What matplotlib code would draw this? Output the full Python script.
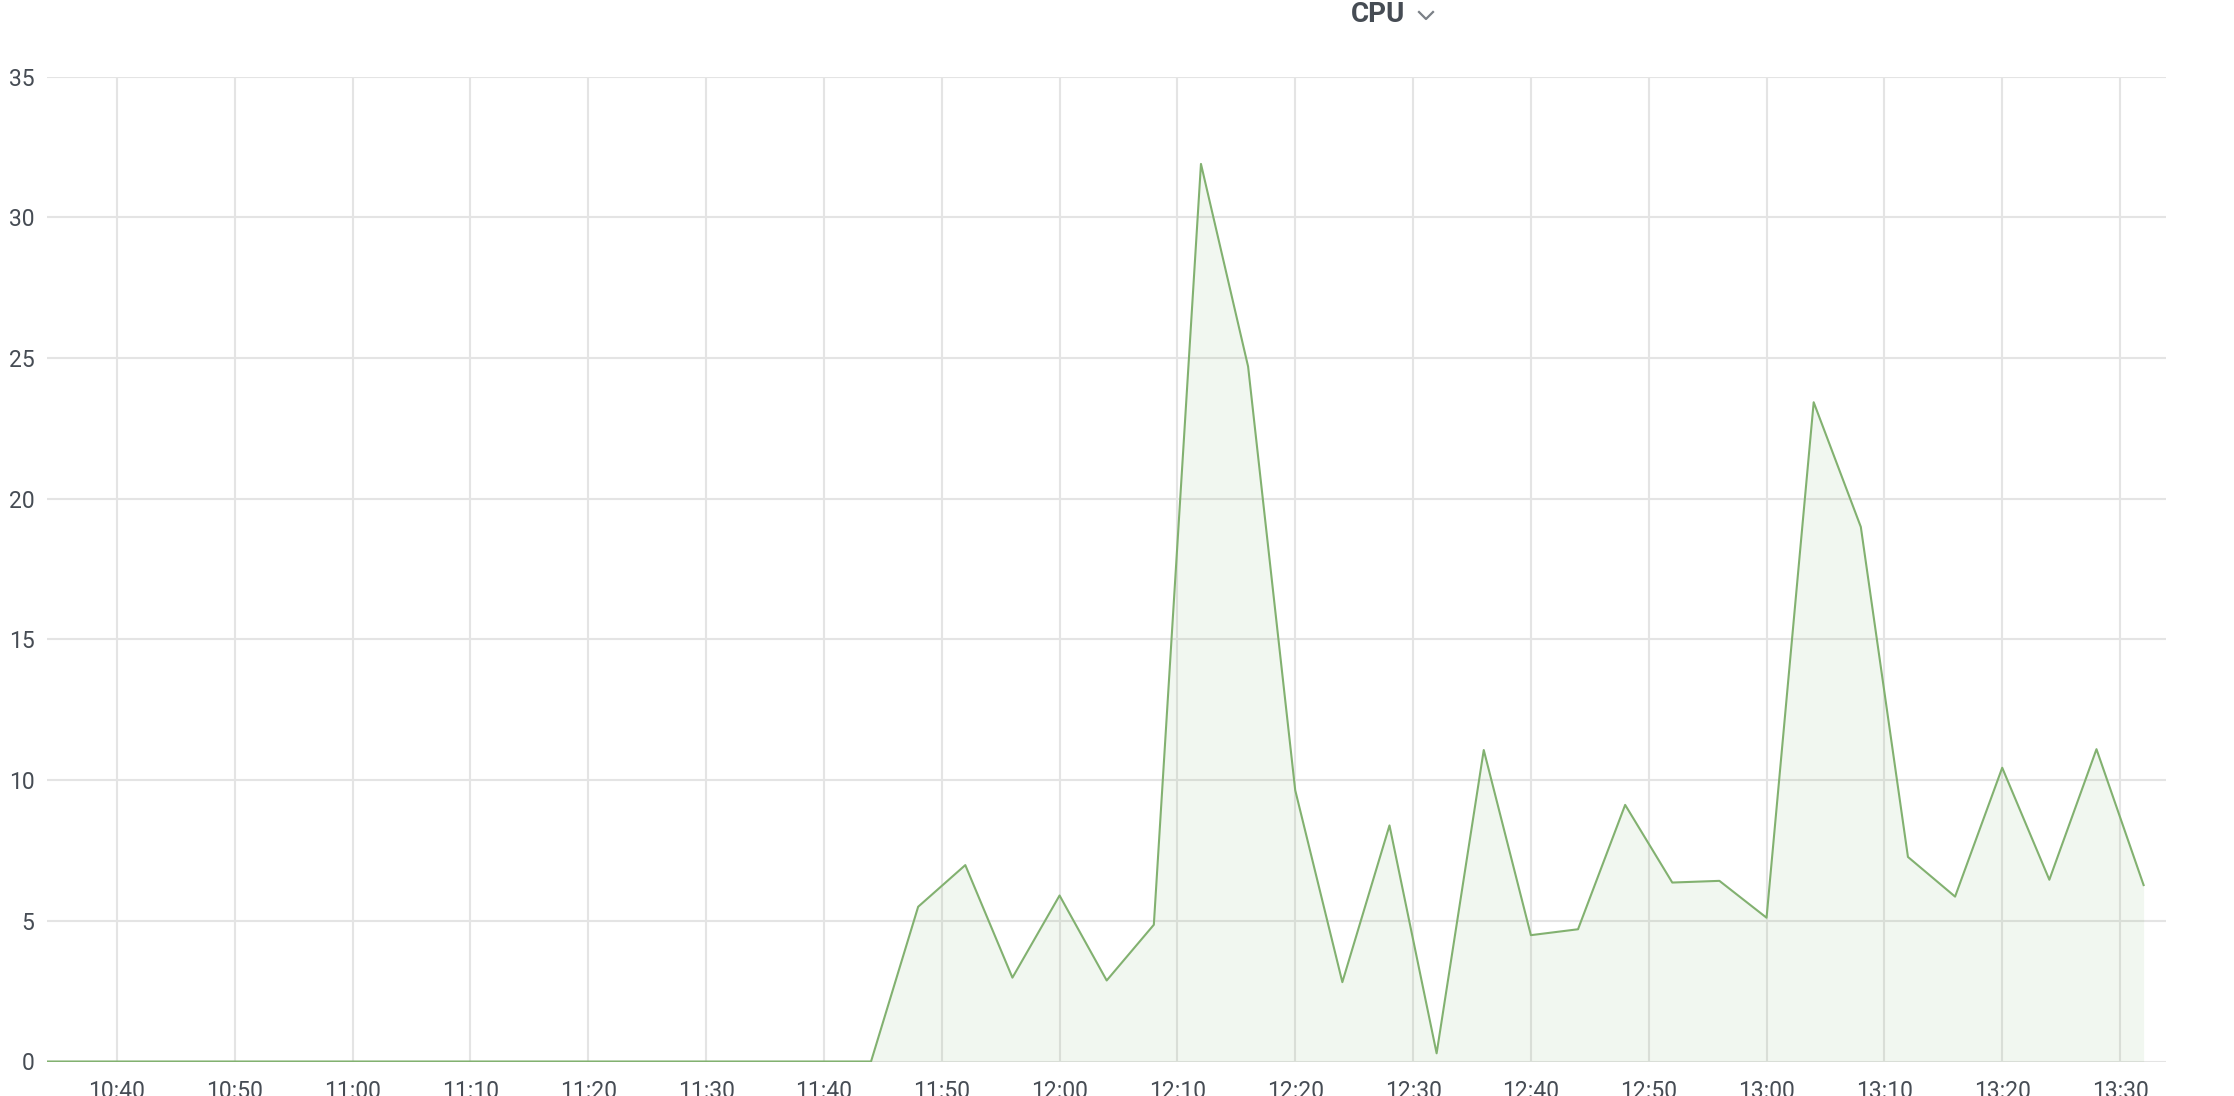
import matplotlib
matplotlib.use("Agg")
import matplotlib.pyplot as plt
from matplotlib.lines import Line2D
import numpy as np
import pandas as pd

# ---- data ----
title = "CPU"
series_start = "2024-01-01 10:32"
step_minutes = 4
cpu_values = [
    0, 0, 0, 0, 0, 0, 0, 0, 0, 0, 0, 0, 0, 0, 0, 0, 0, 0,       # 10:32 .. 11:40
    0, 5.5, 6.98, 2.98, 5.9, 2.88, 4.86, 31.9, 24.7, 9.64,     # 11:44 ..
    2.82, 8.39, 0.29, 11.07, 4.49, 4.70, 9.12, 6.36, 6.42,
    5.11, 23.43, 19.0, 7.27, 5.86, 10.44, 6.46, 11.10, 6.27,    # .. 13:32
]
x_range = ("2024-01-01 10:34:04", "2024-01-01 13:33:54")
tick_times = ["10:40", "10:50", "11:00", "11:10", "11:20", "11:30", "11:40",
              "11:50", "12:00", "12:10", "12:20", "12:30", "12:40", "12:50",
              "13:00", "13:10", "13:20", "13:30"]
y_ticks = [0, 5, 10, 15, 20, 25, 30, 35]

times = pd.date_range(series_start, periods=len(cpu_values), freq=f"{step_minutes}min")
tick_pos = [pd.Timestamp("2024-01-01 " + t) for t in tick_times]

plt.rcParams["font.family"] = ["Roboto", "DejaVu Sans"]

W, H = 2234, 1096
fig = plt.figure(figsize=(W / 100, H / 100), dpi=100)
ax = fig.add_axes([47 / W, 1 - 1061.5 / H, (2166 - 47) / W, (1061.5 - 76.7) / H])

line_color = "#82B170"
text_color = "#464c54"
grid_color = "#e4e4e4"

ax.fill_between(times, cpu_values, 0, color="#7EB26D", alpha=0.1, linewidth=0, zorder=2)
ax.plot(times, cpu_values, color=line_color, linewidth=1.5, zorder=3)

ax.set_xlim(pd.Timestamp(x_range[0]), pd.Timestamp(x_range[1]))
ax.set_ylim(0, 35)
ax.set_yticks(y_ticks)
ax.set_xticks(tick_pos)
ax.set_xticklabels(tick_times)
ax.set_yticklabels([str(v) for v in y_ticks])

ax.grid(True, color=grid_color, linewidth=1.5, zorder=0)
ax.set_axisbelow(True)
for s in ax.spines.values():
    s.set_visible(False)
ax.tick_params(axis="both", length=0, colors=text_color, labelsize=16.5)
ax.tick_params(axis="x", pad=13)
ax.tick_params(axis="y", pad=9)

fig.text(1378 / W, 1 - 14 / H, title, ha="center", va="center",
         fontsize=20, fontweight="bold", color=text_color)
# dropdown chevron next to the title
fig.add_artist(Line2D([1419 / W, 1426 / W, 1433 / W],
                      [1 - 12 / H, 1 - 19 / H, 1 - 12 / H],
                      transform=fig.transFigure, color="#7b8087", linewidth=1.6))

fig.savefig("out.png", dpi=100, facecolor="white")
